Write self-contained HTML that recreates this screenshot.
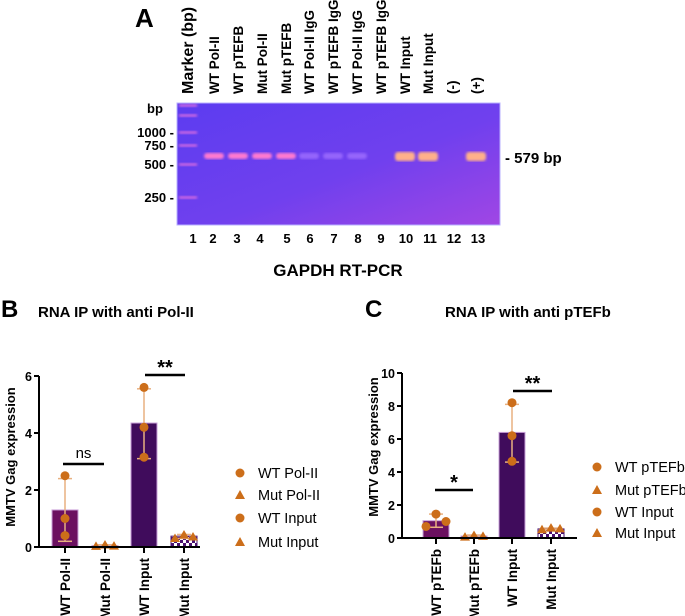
<!DOCTYPE html>
<html><head><meta charset="utf-8"><style>
html,body{margin:0;padding:0;background:#fff;}
svg{display:block;font-family:"Liberation Sans",sans-serif;}
</style></head><body>
<svg id="fig" width="685" height="616" viewBox="0 0 685 616">
<defs>
<linearGradient id="gelg" x1="0" y1="0" x2="1" y2="1">
<stop offset="0" stop-color="#5c3cf0"/><stop offset="0.55" stop-color="#7040ee"/><stop offset="1" stop-color="#a046e4"/>
</linearGradient>
<pattern id="chk" width="6" height="6" patternUnits="userSpaceOnUse">
<rect width="6" height="6" fill="#fff"/><rect width="3" height="3" fill="#4a1070"/><rect x="3" y="3" width="3" height="3" fill="#4a1070"/>
</pattern>
<filter id="blur"><feGaussianBlur stdDeviation="1.2"/></filter>
</defs>
<g id="panelA"></g>
<g id="panelB"></g>
<g id="panelC"></g>
</svg>
<script>
// ---- Gel data ----
const laneNames = ["Marker (bp)","WT Pol-II","WT pTEFB","Mut Pol-II","Mut pTEFB","WT Pol-II IgG","WT pTEFB IgG","WT Pol-II IgG","WT pTEFB IgG","WT Input","Mut Input","(-)","(+)"];
const laneIntensity = [0,0.9,0.85,0.9,0.9,0.15,0.12,0.18,0,1,1,0,1];
const markerBp = [1000,750,500,250];

// ---- Panel B data ----
const bCategories = ["WT Pol-II","Mut Pol-II","WT Input","Mut Input"];
const bMeans = [1.3,0.05,4.35,0.38];
const bPoints = [[2.5,1.0,0.4],[0.02,0.07,0.03],[5.6,4.2,3.15],[0.3,0.42,0.35]];
const bErrLo = [0.2,0.0,3.1,0.3];
const bErrHi = [2.4,0.08,5.55,0.44];
const bTicks = [0,2,4,6];
const bLegend = ["WT Pol-II","Mut Pol-II","WT Input","Mut Input"];

// ---- Panel C data ----
const cCategories = ["WT pTEFb","Mut pTEFb","WT Input","Mut Input"];
const cMeans = [1.05,0.12,6.4,0.55];
const cPoints = [[0.7,1.45,1.0],[0.05,0.15,0.1],[8.2,6.2,4.65],[0.5,0.6,0.55]];
const cErrLo = [0.65,0.05,4.6,0.5];
const cErrHi = [1.45,0.18,8.1,0.6];
const cTicks = [0,2,4,6,8,10];
const cLegend = ["WT pTEFb","Mut pTEFb","WT Input","Mut Input"];

const NS="http://www.w3.org/2000/svg";
function mk(parent,tag,attrs,text){const e=document.createElementNS(NS,tag);for(const k in attrs)e.setAttribute(k,attrs[k]);if(text!==undefined)e.textContent=text;parent.appendChild(e);return e;}

// ---------- Panel A ----------
(function(){
const g=document.getElementById('panelA');
let t=mk(g,'text',{x:135,y:27,'font-size':26,'font-weight':'bold'},'A');


const gel=mk(g,'rect',{x:177,y:103,width:323,height:122,fill:'url(#gelg)',stroke:'#b8b0ff','stroke-width':1});


const laneX=[188,214,238,262,286,309,333,357,381,405,428,452,476];
const laneNumX=[193,213,237,260,287,310,334,358,381,406,430,454,478];
laneNames.forEach((n,i)=>{
  const fs=i===0?16:13.5;
  const tx=mk(g,'text',{x:0,y:0,'font-size':fs,'font-weight':'bold',transform:`translate(${laneX[i]+5},94) rotate(-90)`},n);
  
  
  const nm=mk(g,'text',{x:laneNumX[i],y:243,'font-size':13,'font-weight':'bold','text-anchor':'middle'},String(i+1));
  
  
  if(laneIntensity[i]>0){
    const a=laneIntensity[i];
    const b=mk(g,'rect',{x:laneX[i]-10,y:a>0.95?152:153,width:20,height:a>0.95?9:6,rx:3,fill:a>0.5?(a>0.95?'#ffb08a':'#ff7ad0'):'#a070ff',opacity:a>0.5?1:0.8,filter:'url(#blur)'});
    
    
  }
});
const mY=[105,115,132,145,164,197];
mY.forEach(y=>{const m=mk(g,'rect',{x:179,y:y-1,width:18,height:3,fill:'#e070e0',opacity:0.8,filter:'url(#blur)'});
 });
t=mk(g,'text',{x:147,y:113,'font-size':13,'font-weight':'bold'},'bp');

const bpY=[132,145,164,197];
markerBp.forEach((v,i)=>{const l=mk(g,'text',{x:174,y:bpY[i]+5,'font-size':13,'font-weight':'bold','text-anchor':'end'},v+' -');
 });
t=mk(g,'text',{x:505,y:163,'font-size':15,'font-weight':'bold'},'- 579 bp');

t=mk(g,'text',{x:338,y:276,'font-size':17,'font-weight':'bold','text-anchor':'middle'},'GAPDH RT-PCR');

})();

// ---------- Bar chart function ----------
function drawChart(g,cfg){
  const {x0,x1,yBase,yTopPix,yMax,cats,means,pts,lo,hi,ticks,legend,barX,barW,colors,sig,legX,legY}=cfg;
  const yS=v=>yBase-(v/yMax)*(yBase-yTopPix);
  let t=mk(g,'text',{x:cfg.labelX,y:317,'font-size':24,'font-weight':'bold'},cfg.label);
  
  t=mk(g,'text',{x:cfg.titleX,y:317,'font-size':15,'font-weight':'bold'},cfg.title);
  
  cats.forEach((c,i)=>{
    const cx=barX[i]+barW/2;
    const r=mk(g,'rect',{x:barX[i],y:yS(means[i]),width:barW,height:yBase-yS(means[i]),fill:colors[i],stroke:colors[i]==='url(#chk)'?'#4a1070':'#c9a0d8','stroke-width':1});
    
    
    const e=mk(g,'line',{x1:cx,x2:cx,y1:yS(lo[i]),y2:yS(hi[i]),stroke:'#e8b080','stroke-width':1.5});
    
    [lo[i],hi[i]].forEach(v=>{const cap=mk(g,'line',{x1:cx-7,x2:cx+7,y1:yS(v),y2:yS(v),stroke:'#e8b080','stroke-width':1.5});
      });
    pts[i].forEach((v,j)=>{
      const px=cx+(j-1)*9;
      let p;
      if(i%2===0){
        let pcx=cx;
        if(cfg.spreadFirst && i===0) pcx=cx+(j-1)*10;
        p=mk(g,'circle',{cx:pcx,cy:yS(v),r:4.5,fill:'#cc6e1a'});
      } else p=mk(g,'polygon',{points:`${px},${yS(v)-5} ${px-5},${yS(v)+3.5} ${px+5},${yS(v)+3.5}`,fill:'#cc6e1a'});
      
    });
    const tk=mk(g,'line',{x1:cx,x2:cx,y1:yBase,y2:yBase+6,stroke:'#000','stroke-width':2});
    
    const xl=mk(g,'text',{x:0,y:0,'font-size':13.5,'font-weight':'bold','text-anchor':'end',transform:`translate(${cx+5},${yBase+11}) rotate(-90)`},c);
    
  });
  const ax=mk(g,'path',{d:`M${x0},${yS(ticks[ticks.length-1])} V${yBase} H${x1}`,stroke:'#000','stroke-width':2,fill:'none'});
  
  ticks.forEach(v=>{
    const tk=mk(g,'line',{x1:x0-5,x2:x0,y1:yS(v),y2:yS(v),stroke:'#000','stroke-width':2});
    
    const l=mk(g,'text',{x:x0-7,y:yS(v)+5,'font-size':12.5,'font-weight':'bold','text-anchor':'end'},v);
    
  });
  const yl=mk(g,'text',{x:0,y:0,'font-size':13,'font-weight':'bold','text-anchor':'middle',transform:`translate(${cfg.yLabelX},${cfg.yLabelY}) rotate(-90)`},'MMTV Gag expression');
  
  sig.forEach(s=>{
    const l=mk(g,'line',{x1:s.x1,x2:s.x2,y1:s.y,y2:s.y,stroke:'#000','stroke-width':2.5});
    
    const st=mk(g,'text',{x:(s.x1+s.x2)/2,y:s.y-(s.t==='ns'?6:1),'font-size':s.t==='ns'?15:20,'font-weight':s.t==='ns'?'normal':'bold','text-anchor':'middle'},s.t);
    
  });
  legend.forEach((n,i)=>{
    const y=legY[i];
    let m;
    if(i%2===0) m=mk(g,'circle',{cx:legX,cy:y,r:4.5,fill:'#cc6e1a'});
    else m=mk(g,'polygon',{points:`${legX},${y-5} ${legX-5},${y+4} ${legX+5},${y+4}`,fill:'#cc6e1a'});
    
    const tx=mk(g,'text',{x:legX+18,y:y+5,'font-size':14.5},n);
    
  });
}

drawChart(document.getElementById('panelB'),{
  label:'B',labelX:1,title:'RNA IP with anti Pol-II',titleX:38,
  x0:39,x1:200,yBase:547,yTopPix:376,yMax:6,
  cats:bCategories,means:bMeans,pts:bPoints,lo:bErrLo,hi:bErrHi,ticks:bTicks,legend:bLegend,
  barX:[52,92,131,171],barW:26,colors:['#6b1060','#6b1060','#400c5c','url(#chk)'],
  sig:[{x1:63,x2:104,y:464,t:'ns'},{x1:145,x2:185,y:375,t:'**'}],
  legX:240,legY:[473,495,518,542],yLabelX:15,yLabelY:457
});
drawChart(document.getElementById('panelC'),{
  label:'C',labelX:365,title:'RNA IP with anti pTEFb',titleX:445,
  x0:402,x1:577,yBase:538,yTopPix:373,yMax:10,spreadFirst:true,
  cats:cCategories,means:cMeans,pts:cPoints,lo:cErrLo,hi:cErrHi,ticks:cTicks,legend:cLegend,
  barX:[423,461,499,538],barW:26,colors:['#6b1060','#6b1060','#400c5c','url(#chk)'],
  sig:[{x1:435,x2:473,y:490,t:'*'},{x1:513,x2:552,y:391,t:'**'}],
  legX:597,legY:[467,490,512,533],yLabelX:378,yLabelY:447
});
</script>
</body></html>
